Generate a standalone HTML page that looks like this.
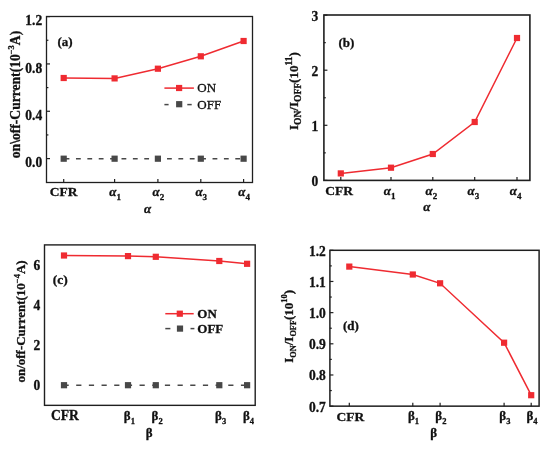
<!DOCTYPE html>
<html><head><meta charset="utf-8"><title>figure</title>
<style>
html,body{margin:0;padding:0;background:#fff;}
svg{display:block;}
svg text{font-family:'Liberation Serif', 'Times New Roman', serif;fill:#111;stroke:#111;stroke-width:0.3px;}
</style></head>
<body>
<svg width="550" height="449" viewBox="0 0 550 449">
<rect width="550" height="449" fill="#fff"/>
<rect x="46.50" y="16.50" width="206.00" height="166.00" fill="none" stroke="#1f1f1f" stroke-width="1.3"/>
<line x1="46.50" y1="158.60" x2="50.00" y2="158.60" stroke="#1f1f1f" stroke-width="1.2"/>
<line x1="46.50" y1="111.27" x2="50.00" y2="111.27" stroke="#1f1f1f" stroke-width="1.2"/>
<line x1="46.50" y1="63.93" x2="50.00" y2="63.93" stroke="#1f1f1f" stroke-width="1.2"/>
<line x1="46.50" y1="16.60" x2="50.00" y2="16.60" stroke="#1f1f1f" stroke-width="1.2"/>
<line x1="46.50" y1="134.93" x2="48.40" y2="134.93" stroke="#1f1f1f" stroke-width="1.2"/>
<line x1="46.50" y1="87.60" x2="48.40" y2="87.60" stroke="#1f1f1f" stroke-width="1.2"/>
<line x1="46.50" y1="40.27" x2="48.40" y2="40.27" stroke="#1f1f1f" stroke-width="1.2"/>
<line x1="63.70" y1="182.50" x2="63.70" y2="179.00" stroke="#1f1f1f" stroke-width="1.2"/>
<line x1="114.60" y1="182.50" x2="114.60" y2="179.00" stroke="#1f1f1f" stroke-width="1.2"/>
<line x1="157.90" y1="182.50" x2="157.90" y2="179.00" stroke="#1f1f1f" stroke-width="1.2"/>
<line x1="200.80" y1="182.50" x2="200.80" y2="179.00" stroke="#1f1f1f" stroke-width="1.2"/>
<line x1="243.60" y1="182.50" x2="243.60" y2="179.00" stroke="#1f1f1f" stroke-width="1.2"/>
<text transform="translate(42.20,167.30) scale(1,1.04)" font-size="13.5" text-anchor="end" font-weight="bold">0.0</text>
<text transform="translate(42.20,119.97) scale(1,1.04)" font-size="13.5" text-anchor="end" font-weight="bold">0.4</text>
<text transform="translate(42.20,72.63) scale(1,1.04)" font-size="13.5" text-anchor="end" font-weight="bold">0.8</text>
<text transform="translate(42.20,25.30) scale(1,1.04)" font-size="13.5" text-anchor="end" font-weight="bold">1.2</text>
<text x="63.60" y="195.80" font-size="13.5" text-anchor="middle" font-weight="bold">CFR</text>
<text transform="translate(109.20,196.20) scale(1,1.0)" font-size="13" text-anchor="start" font-weight="bold"><tspan font-style="italic">&#945;</tspan><tspan font-size="9" dy="3.50">1</tspan></text>
<text transform="translate(152.50,196.20) scale(1,1.0)" font-size="13" text-anchor="start" font-weight="bold"><tspan font-style="italic">&#945;</tspan><tspan font-size="9" dy="3.50">2</tspan></text>
<text transform="translate(195.40,196.20) scale(1,1.0)" font-size="13" text-anchor="start" font-weight="bold"><tspan font-style="italic">&#945;</tspan><tspan font-size="9" dy="3.50">3</tspan></text>
<text transform="translate(238.20,196.20) scale(1,1.0)" font-size="13" text-anchor="start" font-weight="bold"><tspan font-style="italic">&#945;</tspan><tspan font-size="9" dy="3.50">4</tspan></text>
<text x="147.70" y="212.50" font-size="13" text-anchor="middle" font-weight="bold" font-style="italic">&#945;</text>
<text x="57.40" y="45.60" font-size="13" text-anchor="start" font-weight="bold">(a)</text>
<polyline points="63.70,158.70 114.60,158.70 157.90,158.70 200.80,158.70 243.60,158.70" fill="none" stroke="#484848" stroke-width="1.5" stroke-dasharray="4.8,6.58" stroke-dashoffset="10.48"/>
<polyline points="63.70,78.00 114.60,78.40 157.90,68.70 200.80,56.30 243.60,41.00" fill="none" stroke="#ef2b31" stroke-width="1.5"/>
<rect x="60.60" y="155.60" width="6.20" height="6.20" fill="#484848"/>
<rect x="111.50" y="155.60" width="6.20" height="6.20" fill="#484848"/>
<rect x="154.80" y="155.60" width="6.20" height="6.20" fill="#484848"/>
<rect x="197.70" y="155.60" width="6.20" height="6.20" fill="#484848"/>
<rect x="240.50" y="155.60" width="6.20" height="6.20" fill="#484848"/>
<rect x="60.60" y="74.90" width="6.20" height="6.20" fill="#ef2b31"/>
<rect x="111.50" y="75.30" width="6.20" height="6.20" fill="#ef2b31"/>
<rect x="154.80" y="65.60" width="6.20" height="6.20" fill="#ef2b31"/>
<rect x="197.70" y="53.20" width="6.20" height="6.20" fill="#ef2b31"/>
<rect x="240.50" y="37.90" width="6.20" height="6.20" fill="#ef2b31"/>
<line x1="164.40" y1="88.10" x2="193.90" y2="88.10" stroke="#ef2b31" stroke-width="1.5"/>
<rect x="176.00" y="84.90" width="6.20" height="6.20" fill="#ef2b31"/>
<line x1="164.40" y1="104.60" x2="168.60" y2="104.60" stroke="#484848" stroke-width="1.5"/>
<line x1="187.30" y1="104.60" x2="191.70" y2="104.60" stroke="#484848" stroke-width="1.5"/>
<rect x="176.10" y="101.10" width="6.20" height="6.20" fill="#484848"/>
<text x="197.30" y="92.30" font-size="13" text-anchor="start" font-weight="normal">ON</text>
<text x="197.30" y="108.50" font-size="13" text-anchor="start" font-weight="normal">OFF</text>
<text transform="translate(20.1,158.2) rotate(-90)" font-size="13.6" font-weight="bold">on\off-Current(10<tspan font-size="8.5" dy="-6.5">&#8722;3</tspan><tspan dy="6.5">A)</tspan></text>
<rect x="323.90" y="15.00" width="206.00" height="165.40" fill="none" stroke="#1f1f1f" stroke-width="1.6"/>
<line x1="323.90" y1="180.40" x2="327.40" y2="180.40" stroke="#1f1f1f" stroke-width="1.2"/>
<line x1="323.90" y1="125.30" x2="327.40" y2="125.30" stroke="#1f1f1f" stroke-width="1.2"/>
<line x1="323.90" y1="70.20" x2="327.40" y2="70.20" stroke="#1f1f1f" stroke-width="1.2"/>
<line x1="323.90" y1="15.10" x2="327.40" y2="15.10" stroke="#1f1f1f" stroke-width="1.2"/>
<line x1="323.90" y1="152.85" x2="325.80" y2="152.85" stroke="#1f1f1f" stroke-width="1.2"/>
<line x1="323.90" y1="97.75" x2="325.80" y2="97.75" stroke="#1f1f1f" stroke-width="1.2"/>
<line x1="323.90" y1="42.65" x2="325.80" y2="42.65" stroke="#1f1f1f" stroke-width="1.2"/>
<line x1="340.80" y1="180.40" x2="340.80" y2="176.90" stroke="#1f1f1f" stroke-width="1.2"/>
<line x1="391.00" y1="180.40" x2="391.00" y2="176.90" stroke="#1f1f1f" stroke-width="1.2"/>
<line x1="432.80" y1="180.40" x2="432.80" y2="176.90" stroke="#1f1f1f" stroke-width="1.2"/>
<line x1="474.70" y1="180.40" x2="474.70" y2="176.90" stroke="#1f1f1f" stroke-width="1.2"/>
<line x1="517.00" y1="180.40" x2="517.00" y2="176.90" stroke="#1f1f1f" stroke-width="1.2"/>
<text transform="translate(318.20,186.30) scale(1,1.04)" font-size="13.5" text-anchor="end" font-weight="bold">0</text>
<text transform="translate(318.20,131.20) scale(1,1.04)" font-size="13.5" text-anchor="end" font-weight="bold">1</text>
<text transform="translate(318.20,76.10) scale(1,1.04)" font-size="13.5" text-anchor="end" font-weight="bold">2</text>
<text transform="translate(318.20,21.00) scale(1,1.04)" font-size="13.5" text-anchor="end" font-weight="bold">3</text>
<text x="339.10" y="194.60" font-size="13.5" text-anchor="middle" font-weight="bold">CFR</text>
<text transform="translate(383.80,194.60) scale(1,1.0)" font-size="13" text-anchor="start" font-weight="bold"><tspan font-style="italic">&#945;</tspan><tspan font-size="9" dy="4.00">1</tspan></text>
<text transform="translate(425.60,194.60) scale(1,1.0)" font-size="13" text-anchor="start" font-weight="bold"><tspan font-style="italic">&#945;</tspan><tspan font-size="9" dy="4.00">2</tspan></text>
<text transform="translate(467.50,194.60) scale(1,1.0)" font-size="13" text-anchor="start" font-weight="bold"><tspan font-style="italic">&#945;</tspan><tspan font-size="9" dy="4.00">3</tspan></text>
<text transform="translate(509.80,194.60) scale(1,1.0)" font-size="13" text-anchor="start" font-weight="bold"><tspan font-style="italic">&#945;</tspan><tspan font-size="9" dy="4.00">4</tspan></text>
<text x="426.90" y="210.50" font-size="13" text-anchor="middle" font-weight="bold" font-style="italic">&#945;</text>
<text x="338.40" y="46.50" font-size="13" text-anchor="start" font-weight="bold">(b)</text>
<polyline points="340.80,173.40 391.00,167.70 432.80,154.00 474.70,122.00 517.00,38.00" fill="none" stroke="#ef2b31" stroke-width="1.5"/>
<rect x="337.70" y="170.30" width="6.20" height="6.20" fill="#ef2b31"/>
<rect x="387.90" y="164.60" width="6.20" height="6.20" fill="#ef2b31"/>
<rect x="429.70" y="150.90" width="6.20" height="6.20" fill="#ef2b31"/>
<rect x="471.60" y="118.90" width="6.20" height="6.20" fill="#ef2b31"/>
<rect x="513.90" y="34.90" width="6.20" height="6.20" fill="#ef2b31"/>
<text transform="translate(297.8,130.0) rotate(-90)" font-size="13.1" font-weight="bold">I<tspan font-size="9.5" dy="3">ON</tspan><tspan dy="-3">/I</tspan><tspan font-size="9.5" dy="3">OFF</tspan><tspan dy="-3">(10</tspan><tspan font-size="9.5" dy="-6">11</tspan><tspan dy="6">)</tspan></text>
<rect x="44.50" y="244.90" width="210.70" height="160.45" fill="none" stroke="#1f1f1f" stroke-width="1.4"/>
<text transform="translate(40.20,390.40) scale(1,1.04)" font-size="13.5" text-anchor="end" font-weight="bold">0</text>
<text transform="translate(40.20,350.20) scale(1,1.04)" font-size="13.5" text-anchor="end" font-weight="bold">2</text>
<text transform="translate(40.20,310.00) scale(1,1.04)" font-size="13.5" text-anchor="end" font-weight="bold">4</text>
<text transform="translate(40.20,269.80) scale(1,1.04)" font-size="13.5" text-anchor="end" font-weight="bold">6</text>
<text x="64.90" y="420.40" font-size="13.6" text-anchor="middle" font-weight="bold">CFR</text>
<text transform="translate(123.80,420.20) scale(1,1.0)" font-size="13" text-anchor="start" font-weight="bold"><tspan>&#946;</tspan><tspan font-size="8.5" dy="3.50">1</tspan></text>
<text transform="translate(151.60,420.20) scale(1,1.0)" font-size="13" text-anchor="start" font-weight="bold"><tspan>&#946;</tspan><tspan font-size="8.5" dy="3.50">2</tspan></text>
<text transform="translate(215.10,420.20) scale(1,1.0)" font-size="13" text-anchor="start" font-weight="bold"><tspan>&#946;</tspan><tspan font-size="8.5" dy="3.50">3</tspan></text>
<text transform="translate(242.90,420.20) scale(1,1.0)" font-size="13" text-anchor="start" font-weight="bold"><tspan>&#946;</tspan><tspan font-size="8.5" dy="3.50">4</tspan></text>
<text x="149.10" y="436.60" font-size="13" text-anchor="middle" font-weight="bold">&#946;</text>
<text x="52.70" y="284.30" font-size="13.5" text-anchor="start" font-weight="bold">(c)</text>
<polyline points="64.00,385.20 128.00,385.20 155.80,385.20 219.30,385.20 247.10,385.20" fill="none" stroke="#484848" stroke-width="1.5" stroke-dasharray="5.2,7.47" stroke-dashoffset="0.47"/>
<polyline points="64.00,255.50 128.00,256.10 155.80,256.80 219.30,261.00 247.10,263.80" fill="none" stroke="#ef2b31" stroke-width="1.5"/>
<rect x="60.90" y="382.10" width="6.20" height="6.20" fill="#484848"/>
<rect x="124.90" y="382.10" width="6.20" height="6.20" fill="#484848"/>
<rect x="152.70" y="382.10" width="6.20" height="6.20" fill="#484848"/>
<rect x="216.20" y="382.10" width="6.20" height="6.20" fill="#484848"/>
<rect x="244.00" y="382.10" width="6.20" height="6.20" fill="#484848"/>
<rect x="60.90" y="252.40" width="6.20" height="6.20" fill="#ef2b31"/>
<rect x="124.90" y="253.00" width="6.20" height="6.20" fill="#ef2b31"/>
<rect x="152.70" y="253.70" width="6.20" height="6.20" fill="#ef2b31"/>
<rect x="216.20" y="257.90" width="6.20" height="6.20" fill="#ef2b31"/>
<rect x="244.00" y="260.70" width="6.20" height="6.20" fill="#ef2b31"/>
<line x1="165.30" y1="313.70" x2="193.70" y2="313.70" stroke="#ef2b31" stroke-width="1.5"/>
<rect x="176.70" y="310.60" width="6.20" height="6.20" fill="#ef2b31"/>
<line x1="165.30" y1="328.60" x2="170.40" y2="328.60" stroke="#484848" stroke-width="1.5"/>
<line x1="190.50" y1="328.60" x2="194.40" y2="328.60" stroke="#484848" stroke-width="1.5"/>
<rect x="176.90" y="325.50" width="6.20" height="6.20" fill="#484848"/>
<text x="197.30" y="317.90" font-size="13" text-anchor="start" font-weight="bold">ON</text>
<text x="197.30" y="332.70" font-size="13" text-anchor="start" font-weight="bold">OFF</text>
<text transform="translate(24.7,382.6) rotate(-90)" font-size="13" font-weight="bold">on/off-Current(10<tspan font-size="8.5" dy="-5">&#8722;4</tspan><tspan dy="5">A)</tspan></text>
<rect x="329.90" y="250.30" width="209.20" height="155.85" fill="none" stroke="#1f1f1f" stroke-width="1.5"/>
<line x1="329.90" y1="406.15" x2="333.40" y2="406.15" stroke="#1f1f1f" stroke-width="1.2"/>
<line x1="329.90" y1="374.98" x2="333.40" y2="374.98" stroke="#1f1f1f" stroke-width="1.2"/>
<line x1="329.90" y1="343.81" x2="333.40" y2="343.81" stroke="#1f1f1f" stroke-width="1.2"/>
<line x1="329.90" y1="312.64" x2="333.40" y2="312.64" stroke="#1f1f1f" stroke-width="1.2"/>
<line x1="329.90" y1="281.47" x2="333.40" y2="281.47" stroke="#1f1f1f" stroke-width="1.2"/>
<line x1="329.90" y1="250.30" x2="333.40" y2="250.30" stroke="#1f1f1f" stroke-width="1.2"/>
<line x1="329.90" y1="390.56" x2="331.80" y2="390.56" stroke="#1f1f1f" stroke-width="1.2"/>
<line x1="329.90" y1="359.39" x2="331.80" y2="359.39" stroke="#1f1f1f" stroke-width="1.2"/>
<line x1="329.90" y1="328.23" x2="331.80" y2="328.23" stroke="#1f1f1f" stroke-width="1.2"/>
<line x1="329.90" y1="297.05" x2="331.80" y2="297.05" stroke="#1f1f1f" stroke-width="1.2"/>
<line x1="329.90" y1="265.89" x2="331.80" y2="265.89" stroke="#1f1f1f" stroke-width="1.2"/>
<line x1="349.30" y1="406.15" x2="349.30" y2="402.65" stroke="#1f1f1f" stroke-width="1.2"/>
<line x1="412.80" y1="406.15" x2="412.80" y2="402.65" stroke="#1f1f1f" stroke-width="1.2"/>
<line x1="440.10" y1="406.15" x2="440.10" y2="402.65" stroke="#1f1f1f" stroke-width="1.2"/>
<line x1="504.10" y1="406.15" x2="504.10" y2="402.65" stroke="#1f1f1f" stroke-width="1.2"/>
<line x1="531.20" y1="406.15" x2="531.20" y2="402.65" stroke="#1f1f1f" stroke-width="1.2"/>
<text transform="translate(325.80,411.55) scale(1,1.04)" font-size="13.5" text-anchor="end" font-weight="bold">0.7</text>
<text transform="translate(325.80,380.38) scale(1,1.04)" font-size="13.5" text-anchor="end" font-weight="bold">0.8</text>
<text transform="translate(325.80,349.21) scale(1,1.04)" font-size="13.5" text-anchor="end" font-weight="bold">0.9</text>
<text transform="translate(325.80,318.04) scale(1,1.04)" font-size="13.5" text-anchor="end" font-weight="bold">1.0</text>
<text transform="translate(325.80,286.87) scale(1,1.04)" font-size="13.5" text-anchor="end" font-weight="bold">1.1</text>
<text transform="translate(325.80,255.70) scale(1,1.04)" font-size="13.5" text-anchor="end" font-weight="bold">1.2</text>
<text x="350.30" y="420.90" font-size="13.5" text-anchor="middle" font-weight="bold">CFR</text>
<text transform="translate(408.00,420.20) scale(1,1.0)" font-size="13" text-anchor="start" font-weight="bold"><tspan>&#946;</tspan><tspan font-size="8.5" dy="3.50">1</tspan></text>
<text transform="translate(435.30,420.20) scale(1,1.0)" font-size="13" text-anchor="start" font-weight="bold"><tspan>&#946;</tspan><tspan font-size="8.5" dy="3.50">2</tspan></text>
<text transform="translate(499.30,420.20) scale(1,1.0)" font-size="13" text-anchor="start" font-weight="bold"><tspan>&#946;</tspan><tspan font-size="8.5" dy="3.50">3</tspan></text>
<text transform="translate(526.40,420.20) scale(1,1.0)" font-size="13" text-anchor="start" font-weight="bold"><tspan>&#946;</tspan><tspan font-size="8.5" dy="3.50">4</tspan></text>
<text x="433.60" y="436.60" font-size="13" text-anchor="middle" font-weight="bold">&#946;</text>
<text x="343.00" y="330.00" font-size="13" text-anchor="start" font-weight="bold">(d)</text>
<polyline points="349.30,266.60 412.80,274.50 440.10,283.30 504.10,342.70 531.20,395.20" fill="none" stroke="#ef2b31" stroke-width="1.5"/>
<rect x="346.20" y="263.50" width="6.20" height="6.20" fill="#ef2b31"/>
<rect x="409.70" y="271.40" width="6.20" height="6.20" fill="#ef2b31"/>
<rect x="437.00" y="280.20" width="6.20" height="6.20" fill="#ef2b31"/>
<rect x="501.00" y="339.60" width="6.20" height="6.20" fill="#ef2b31"/>
<rect x="528.10" y="392.10" width="6.20" height="6.20" fill="#ef2b31"/>
<text transform="translate(292.5,362.8) rotate(-90)" font-size="13.0" font-weight="bold">I<tspan font-size="8.3" dy="3">ON</tspan><tspan dy="-3">/I</tspan><tspan font-size="8.3" dy="3">OFF</tspan><tspan dy="-3">(10</tspan><tspan font-size="8.5" dy="-6">10</tspan><tspan dy="6">)</tspan></text>
</svg>
</body></html>
